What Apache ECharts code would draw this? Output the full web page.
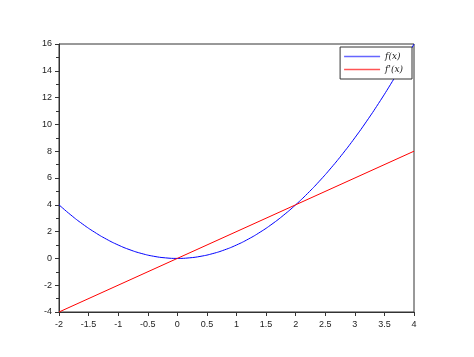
<!DOCTYPE html>
<html><head><meta charset="utf-8">
<script src="https://cdn.jsdelivr.net/npm/echarts@6/dist/echarts.min.js"></script>
<style>html,body{margin:0;padding:0;background:#fff}#c{width:474px;height:357px}</style>
</head><body><div id="c"></div>
<script>
const xs = [-2,-1.8,-1.6,-1.4,-1.2,-1,-0.8,-0.6,-0.4,-0.2,0,0.2,0.4,0.6,0.8,1,1.2,1.4,1.6,1.8,2,2.2,2.4,2.6,2.8,3,3.2,3.4,3.6,3.8,4];
const fVals = [4,3.24,2.56,1.96,1.44,1,0.64,0.36,0.16,0.04,0,0.04,0.16,0.36,0.64,1,1.44,1.96,2.56,3.24,4,4.84,5.76,6.76,7.84,9,10.24,11.56,12.96,14.44,16];
const dxs = [-2,0,2,4];
const dVals = [-4,0,4,8];
const seriesNames = ['f(x)', "f'(x)"];

const chart = echarts.init(document.getElementById('c'));
const lab = {color:'#222', fontSize:9, fontFamily:'Liberation Sans, Arial'};
chart.setOption({
  animation:false,
  grid:{left:59,right:60,top:44,bottom:45,show:true,borderColor:'#333',borderWidth:1},
  xAxis:{type:'value',min:-2,max:4,interval:0.5,
    axisLine:{onZero:false,lineStyle:{color:'#333'}},
    axisTick:{inside:false,length:4,lineStyle:{color:'#333'}},
    axisLabel:Object.assign({margin:8,formatter:v=>String(v)},lab),
    splitLine:{show:false}},
  yAxis:{type:'value',min:-4,max:16,interval:2,
    axisLine:{show:true,onZero:false,lineStyle:{color:'#333'}},
    axisTick:{show:true,inside:false,length:4,lineStyle:{color:'#333'}},
    minorTick:{show:true,splitNumber:2,length:3,lineStyle:{color:'#333'}},
    axisLabel:Object.assign({margin:7},lab),
    splitLine:{show:false}},
  legend:{right:62,top:47,orient:'vertical',backgroundColor:'#fff',borderColor:'#333',borderWidth:1,borderRadius:0,
    padding:[4,9,4,4],itemGap:2,itemWidth:36,itemHeight:1.5,icon:'rect',
    textStyle:{fontFamily:'DejaVu Serif',fontStyle:'italic',fontSize:9,color:'#222',lineHeight:11},
    data:seriesNames},
  series:[
    {name:seriesNames[0],type:'line',data:xs.map((x,i)=>[x,fVals[i]]),smooth:true,showSymbol:false,
      lineStyle:{color:'#0000ff',width:1},itemStyle:{color:'#6666ff'}},
    {name:seriesNames[1],type:'line',data:dxs.map((x,i)=>[x,dVals[i]]),showSymbol:false,
      lineStyle:{color:'#ff0000',width:1},itemStyle:{color:'#ff5555'}}
  ]
});
</script></body></html>
